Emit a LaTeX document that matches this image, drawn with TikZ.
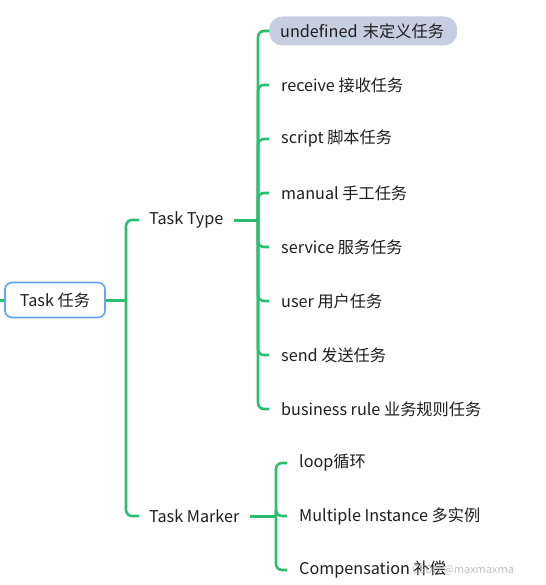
\documentclass[tikz,border=0pt]{standalone}
\usepackage{fontspec}
\setmainfont{Noto Sans CJK SC}
\begin{document}
\begin{tikzpicture}[x=1pt,y=-1pt,
  edge/.style={draw=lineg,line width=2.6pt,rounded corners=6pt},
  thick edge/.style={draw=lineg,line width=3pt},
  leaf/.style={anchor=west,inner xsep=12pt,inner ysep=4pt,text=txt,font=\fontsize{16.2}{19}\selectfont},
  mid/.style={anchor=west,inner xsep=10pt,inner ysep=4pt,text=txt,font=\fontsize{16.2}{19}\selectfont},
  rootbox/.style={draw=rootblue,line width=1.6pt,rounded corners=7pt,minimum width=100pt,minimum height=35pt,text=txt,font=\fontsize{16.2}{19}\selectfont},
  pill/.style={leaf,fill=pillfill,rounded corners=13pt,minimum height=29pt,inner xsep=11pt,text width=166pt}
]
\definecolor{lineg}{RGB}{44,190,110}
\definecolor{rootblue}{RGB}{100,165,240}
\definecolor{pillfill}{RGB}{198,206,226}
\definecolor{txt}{RGB}{30,30,30}
\useasboundingbox (0,0) rectangle (545,585);
\fill[white] (0,0) rectangle (545,585);

% root
\node[rootbox] (root) at (55,300) {Task 任务};
\coordinate (lf) at (0,300);
\coordinate (rj) at (126,300);
\draw[thick edge] (lf) -- (root.west);
\draw[thick edge] (root.east) -- (rj);

% level 1
\node[mid] (tt) at (139,220) {Task Type};
\node[mid] (tm) at (139,516) {Task Marker};
\draw[edge] (rj) |- (tt.west);
\draw[edge] (rj) |- (tm.west);

\coordinate (ttj) at (258,220);
\coordinate (tmj) at (276,516);
\draw[thick edge] (tt.east) -- (ttj);
\draw[thick edge] (tm.east) -- (tmj);

% Task Type children
\node[pill] (c1) at (269,31) {undefined 末定义任务};
\node[leaf] (c2) at (269,85) {receive 接收任务};
\node[leaf] (c3) at (269,139) {script 脚本任务};
\node[leaf] (c4) at (269,193) {manual 手工任务};
\node[leaf] (c5) at (269,247) {service 服务任务};
\node[leaf] (c6) at (269,301) {user 用户任务};
\node[leaf] (c7) at (269,355) {send 发送任务};
\node[leaf] (c8) at (269,409) {business rule 业务规则任务};
\foreach \c in {c1,c2,c3,c4,c5,c6,c7,c8}
  \draw[edge] (ttj) |- (\c.west);

% Task Marker children
\node[leaf] (m1) at (287,463) {loop循环};
\node[leaf] (m2) at (287,516) {Multiple Instance 多实例};
\node[leaf] (m3) at (287,570) {Compensation 补偿};
\foreach \c in {m1,m2,m3}
  \draw[edge] (tmj) |- (\c.west);

% watermark
\node[anchor=west,inner sep=0pt,text=gray!60,opacity=0.8,font=\fontsize{11}{13}\selectfont] (wm) at (412,570) {CSDN @maxmaxma};
\end{tikzpicture}
\end{document}
